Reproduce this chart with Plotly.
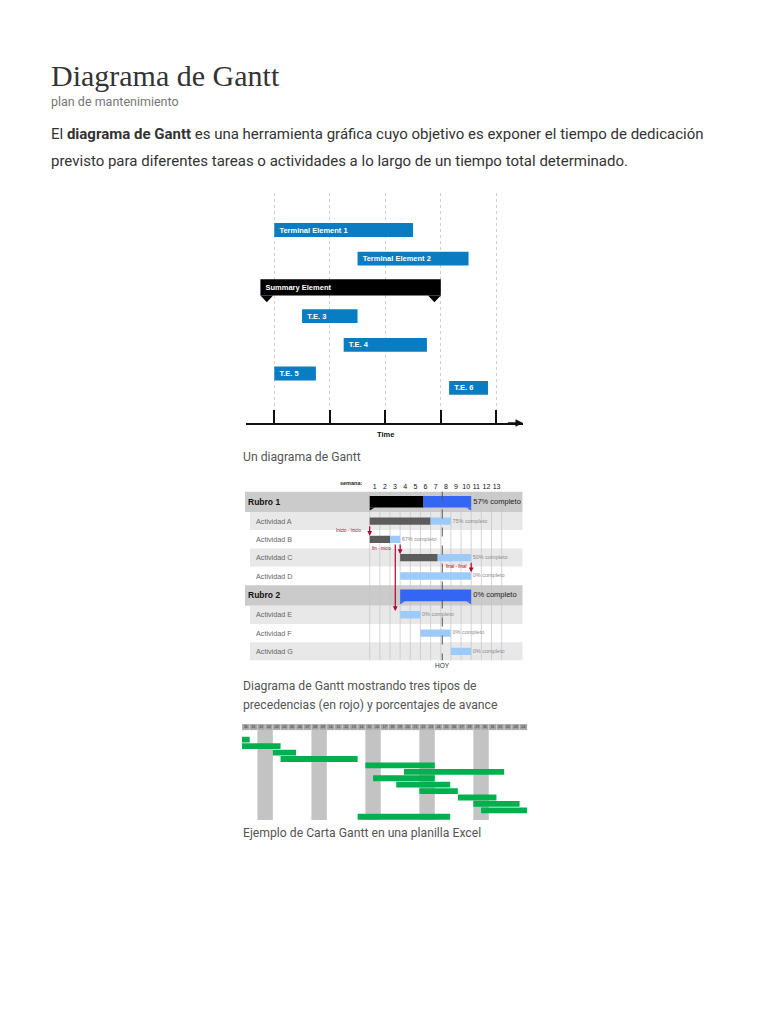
import plotly.graph_objects as go

W, H = 768, 1024
OFF = 8  # page body margin
def px(x): return (x - OFF) / W
def py(y): return 1 - (y - OFF) / H

# ---------------- Chart 1 data ----------------
c1_tasks = ["Terminal Element 1", "Terminal Element 2", "Summary Element",
            "T.E. 3", "T.E. 4", "T.E. 5", "T.E. 6"]
c1_start = [0, 1.5, -0.25, 0.5, 1.25, 0, 3.15]
c1_end = [2.5, 3.5, 3.0, 1.5, 2.75, 0.75, 3.85]
c1_row = [0, 1, 2, 3, 4, 5, 5.5]
c1_summary = [False, False, True, False, False, False, False]
c1_ticks = [0, 1, 2, 3, 4]

# ---------------- Chart 2 data ----------------
c2_weeks = list(range(1, 14))
c2_rows = ["Rubro 1", "Actividad A", "Actividad B", "Actividad C", "Actividad D",
           "Rubro 2", "Actividad E", "Actividad F", "Actividad G"]
c2_group = [True, False, False, False, False, True, False, False, False]
c2_start = [0, 0, 0, 3, 3, 3, 3, 5, 8]
c2_done = [5.3, 6, 2, 6.7, 3, 3, 3, 5, 8]
c2_end = [10, 8, 3, 10, 10, 10, 5, 8, 10]
c2_pct = [57, 75, 67, 50, 0, 0, 0, 0, 0]
c2_hoy = 7.15
prec_x = [0, 3, 2.52, 10]
prec_from = [1, 2, 2, 3]
prec_to = [2, 3, 6, 4]
prec_label = ["Inicio - Inicio", "fin - inicio", "", "final - final"]
prec_label_x = [-0.6, 0.05, None, 9.75]
prec_label_anchor = ["right", "left", None, "right"]

# ---------------- Chart 3 data ----------------
c3_days = ["30", "31"] + [f"{d:02d}" for d in range(1, 32)] + ["01", "02", "03", "04"]
c3_weekend_start = [2, 9, 16, 23, 30]
c3_start = [0, 0, 4, 5, 16, 21, 17, 20, 23, 28, 30, 31, 15]
c3_end = [1, 5, 7, 15, 25, 34, 25, 27, 28, 33, 36, 37, 27]
c3_row = list(range(1, 14))

fig = go.Figure()
shapes = []

# ======== Chart 1 ========
BLUE1 = "#0a7dc2"
c1_colors = ["#000000" if s else BLUE1 for s in c1_summary]
c1_width = [0.56 if s else 0.48 for s in c1_summary]
fig.add_trace(go.Bar(
    orientation="h", y=c1_row, base=c1_start,
    x=[e - s for s, e in zip(c1_start, c1_end)],
    width=c1_width, marker=dict(color=c1_colors, line=dict(width=0)),
    text=[f"<b> {t}</b>" for t in c1_tasks], textposition="inside",
    insidetextanchor="start", constraintext="none",
    textfont=dict(color="white", size=7.5, family="Liberation Sans"),
    xaxis="x", yaxis="y", hoverinfo="skip"))
tw, td = 0.23, 0.24
for s, e, r, summ in zip(c1_start, c1_end, c1_row, c1_summary):
    if not summ:
        continue
    b = r + 0.28
    for xs in ([s, s + tw, s + tw / 2, s], [e - tw, e, e - tw / 2, e - tw]):
        fig.add_trace(go.Scatter(x=xs, y=[b, b, b + td, b],
                                 fill="toself", fillcolor="#000", mode="lines",
                                 line=dict(width=0, color="#000"), xaxis="x", yaxis="y",
                                 hoverinfo="skip"))

# ======== Chart 2 ========
heights = [1.12 if g else 1.0 for g in c2_group]
centers = []
acc = 0
for h in heights:
    centers.append(acc + h / 2)
    acc += h
total_h = acc
X2L, X2R = (245 - 369.7) / 10.15, (522.7 - 369.7) / 10.15
act_left = (250 - 369.7) / 10.15
alt = 0
for c, h, g in zip(centers, heights, c2_group):
    if g:
        col = "#cbcbcb"; alt = 0; left = X2L
    else:
        col = "#e8e8e8" if alt % 2 == 0 else "#ffffff"; alt += 1; left = act_left
    shapes.append(dict(type="rect", xref="x2", yref="y2", x0=left, x1=X2R,
                       y0=c - h / 2, y1=c + h / 2, fillcolor=col, line=dict(width=0),
                       layer="below"))
for k in range(0, len(c2_weeks) + 1):
    shapes.append(dict(type="line", xref="x2", yref="y2", x0=k, x1=k, y0=0, y1=total_h,
                       line=dict(color="#c4c4c4", width=0.7), layer="below"))

d_y, d_b, d_x, d_c, d_w = [], [], [], [], []
r_y, r_b, r_x, r_c, r_w = [], [], [], [], []
for c, g, s, d, e in zip(centers, c2_group, c2_start, c2_done, c2_end):
    w = 0.64 if g else 0.4
    if d > s:
        d_y.append(c); d_b.append(s); d_x.append(d - s)
        d_c.append("#000000" if g else "#5c5c5c"); d_w.append(w)
    if e > d:
        r_y.append(c); r_b.append(d); r_x.append(e - d)
        r_c.append("#3366f5" if g else "#9ccbfb"); r_w.append(w)
fig.add_trace(go.Bar(orientation="h", y=d_y, base=d_b, x=d_x, width=d_w,
                     marker=dict(color=d_c, line=dict(width=0)),
                     xaxis="x2", yaxis="y2", hoverinfo="skip"))
fig.add_trace(go.Bar(orientation="h", y=r_y, base=r_b, x=r_x, width=r_w,
                     marker=dict(color=r_c, line=dict(width=0)),
                     xaxis="x2", yaxis="y2", hoverinfo="skip"))
for c, g, s, d, e in zip(centers, c2_group, c2_start, c2_done, c2_end):
    if not g:
        continue
    b = c + 0.32
    lc = "#000000" if d > s else "#3366f5"
    rc = "#3366f5" if e > d else "#000000"
    fig.add_trace(go.Scatter(x=[s, s + 0.5, s, s], y=[b, b, b + 0.16, b], fill="toself",
                             fillcolor=lc, mode="lines", line=dict(width=0, color=lc),
                             xaxis="x2", yaxis="y2", hoverinfo="skip"))
    fig.add_trace(go.Scatter(x=[e - 0.5, e, e, e - 0.5], y=[b, b, b + 0.16, b], fill="toself",
                             fillcolor=rc, mode="lines", line=dict(width=0, color=rc),
                             xaxis="x2", yaxis="y2", hoverinfo="skip"))
fig.add_trace(go.Scatter(
    x=c2_end, y=centers, mode="text", textposition="middle right",
    text=[f" {p}% completo" for p in c2_pct],
    textfont=dict(size=[7.5 if g else 5.5 for g in c2_group],
                  color=["#222" if g else "#8a8a8a" for g in c2_group],
                  family="Liberation Sans"),
    xaxis="x2", yaxis="y2", hoverinfo="skip"))
fig.add_trace(go.Scatter(x=[c2_hoy, c2_hoy], y=[0, total_h], mode="lines",
                         line=dict(color="#555", width=1, dash="dash"),
                         xaxis="x2", yaxis="y2", hoverinfo="skip"))

# ======== Chart 3 ========
top_hdr, bot_hdr = -1.45, -0.51
bottom3 = 13.5
fig.add_trace(go.Bar(orientation="h", y=[(top_hdr + bot_hdr) / 2] * len(c3_days),
                     base=list(range(len(c3_days))), x=[1] * len(c3_days),
                     width=bot_hdr - top_hdr,
                     marker=dict(color="#a3a3a3", line=dict(color="#d4d4d4", width=0.5)),
                     xaxis="x3", yaxis="y3", hoverinfo="skip"))
fig.add_trace(go.Scatter(x=[i + 0.5 for i in range(len(c3_days))],
                         y=[(top_hdr + bot_hdr) / 2] * len(c3_days),
                         text=c3_days, mode="text",
                         textfont=dict(size=3.5, color="#333", family="Liberation Sans"),
                         xaxis="x3", yaxis="y3", hoverinfo="skip"))
fig.add_trace(go.Bar(orientation="h", y=[(bot_hdr + bottom3) / 2] * len(c3_weekend_start),
                     base=c3_weekend_start, x=[2] * len(c3_weekend_start),
                     width=bottom3 - bot_hdr,
                     marker=dict(color="#c3c3c3", line=dict(width=0)),
                     xaxis="x3", yaxis="y3", hoverinfo="skip"))
fig.add_trace(go.Bar(orientation="h", y=c3_row, base=c3_start,
                     x=[e - s for s, e in zip(c3_start, c3_end)], width=0.9,
                     marker=dict(color="#00b04f", line=dict(width=0)),
                     xaxis="x3", yaxis="y3", hoverinfo="skip"))

# ======== Annotations ========
ann = []
def txt(x, y, t, size, color, family="Roboto", anchor="left", **kw):
    ann.append(dict(x=px(x), y=py(y), xref="paper", yref="paper", text=t, showarrow=False,
                    xanchor=anchor, yanchor="middle",
                    font=dict(size=size, color=color, family=family), **kw))

txt(49, 75, "Diagrama de Gantt", 30, "#333", family="Liberation Serif")
txt(49, 101, "plan de mantenimiento", 12.5, "#777")
txt(49, 134, "El <b>diagrama de Gantt</b> es una herramienta gráfica cuyo objetivo es exponer el tiempo de dedicación", 15, "#333")
txt(49, 161, "previsto para diferentes tareas o actividades a lo largo de un tiempo total determinado.", 15, "#333")
txt(241, 457, "Un diagrama de Gantt", 12.2, "#555")
txt(241, 686, "Diagrama de Gantt mostrando tres tipos de", 12.2, "#555")
txt(241, 705, "precedencias (en rojo) y porcentajes de avance", 12.2, "#555")
txt(241, 833, "Ejemplo de Carta Gantt en una planilla Excel", 12.2, "#555")

X1L, X1R = (246 - 274.3) / 55.5, (523 - 274.3) / 55.5
Y1T, Y1B = (193 - 230) / 28.7, (423 - 230) / 28.7
ann.append(dict(x=X1R, y=Y1B, xref="x", yref="y", ax=X1R - 0.3, ay=Y1B, axref="x", ayref="y",
                text="", showarrow=True, arrowhead=2, arrowsize=1, arrowwidth=1.5,
                arrowcolor="#111"))
ann.append(dict(x=2, y=py(434), xref="x", yref="paper", text="<b>Time</b>", showarrow=False,
                font=dict(size=7.5, color="#111", family="Liberation Sans")))

for c, g, name in zip(centers, c2_group, c2_rows):
    if g:
        ann.append(dict(x=px(246), y=c, xref="paper", yref="y2", text=f"<b>{name}</b>",
                        showarrow=False, xanchor="left",
                        font=dict(size=8.5, color="#111", family="Liberation Sans")))
    else:
        ann.append(dict(x=px(254), y=c, xref="paper", yref="y2", text=name,
                        showarrow=False, xanchor="left",
                        font=dict(size=7.2, color="#666", family="Liberation Sans")))
ann.append(dict(x=px(364), y=py(483), xref="paper", yref="paper", text="<b>semana:</b>",
                showarrow=False, xanchor="right",
                font=dict(size=5.5, color="#222", family="Liberation Sans")))
ann.append(dict(x=c2_hoy, y=py(665), xref="x2", yref="paper", text="HOY", showarrow=False,
                font=dict(size=6.5, color="#333", family="Liberation Sans")))
RED = "#b8002e"
for x, f, t, lab, lx, la in zip(prec_x, prec_from, prec_to, prec_label, prec_label_x,
                                prec_label_anchor):
    hf = 0.32 if c2_group[f] else 0.2
    ht = 0.32 if c2_group[t] else 0.2
    y0 = centers[f] + hf
    y1 = centers[t] - ht
    ann.append(dict(x=x, y=y1, xref="x2", yref="y2", ax=x, ay=y0, axref="x2", ayref="y2",
                    text="", showarrow=True, arrowhead=2, arrowsize=0.8, arrowwidth=1.2,
                    arrowcolor=RED))
    if lab:
        ann.append(dict(x=lx, y=(centers[f] + centers[t]) / 2, xref="x2", yref="y2",
                        text=lab, showarrow=False, xanchor=la,
                        font=dict(size=4.5, color=RED, family="Liberation Sans")))

fig.update_layout(
    width=W, height=H, margin=dict(l=0, r=0, t=0, b=0),
    paper_bgcolor="white", plot_bgcolor="rgba(0,0,0,0)",
    showlegend=False, barmode="overlay", hovermode=False,
    font=dict(family="Liberation Sans"),
    annotations=ann, shapes=shapes,
    xaxis=dict(domain=[px(246), px(523)], range=[X1L, X1R], tickvals=c1_ticks,
               showticklabels=False, showgrid=True, gridcolor="#cfcfcf", griddash="dot",
               gridwidth=1, ticks="inside", ticklen=13, tickwidth=1.5, tickcolor="#111",
               showline=True, linecolor="#111", linewidth=1.5, zeroline=False, anchor="y",
               fixedrange=True),
    yaxis=dict(domain=[py(423), py(193)], range=[Y1B, Y1T], visible=False, anchor="x",
               fixedrange=True),
    xaxis2=dict(domain=[px(245), px(522.7)], range=[X2L, X2R],
                tickvals=[w - 0.5 for w in c2_weeks], ticktext=[str(w) for w in c2_weeks],
                side="top", anchor="y2", showgrid=False, zeroline=False, showline=False,
                ticks="", tickfont=dict(size=7, color="#111", family="Liberation Sans"),
                fixedrange=True),
    yaxis2=dict(domain=[py(660.5), py(491.5)], range=[total_h, 0], visible=False,
                anchor="x2", fixedrange=True),
    xaxis3=dict(domain=[px(242), px(527.3)], range=[0, len(c3_days)], visible=False,
                anchor="y3", fixedrange=True),
    yaxis3=dict(domain=[py(821), py(724)], range=[13.66, -1.45], visible=False,
                anchor="x3", fixedrange=True),
)

fig.write_html("out.html")
